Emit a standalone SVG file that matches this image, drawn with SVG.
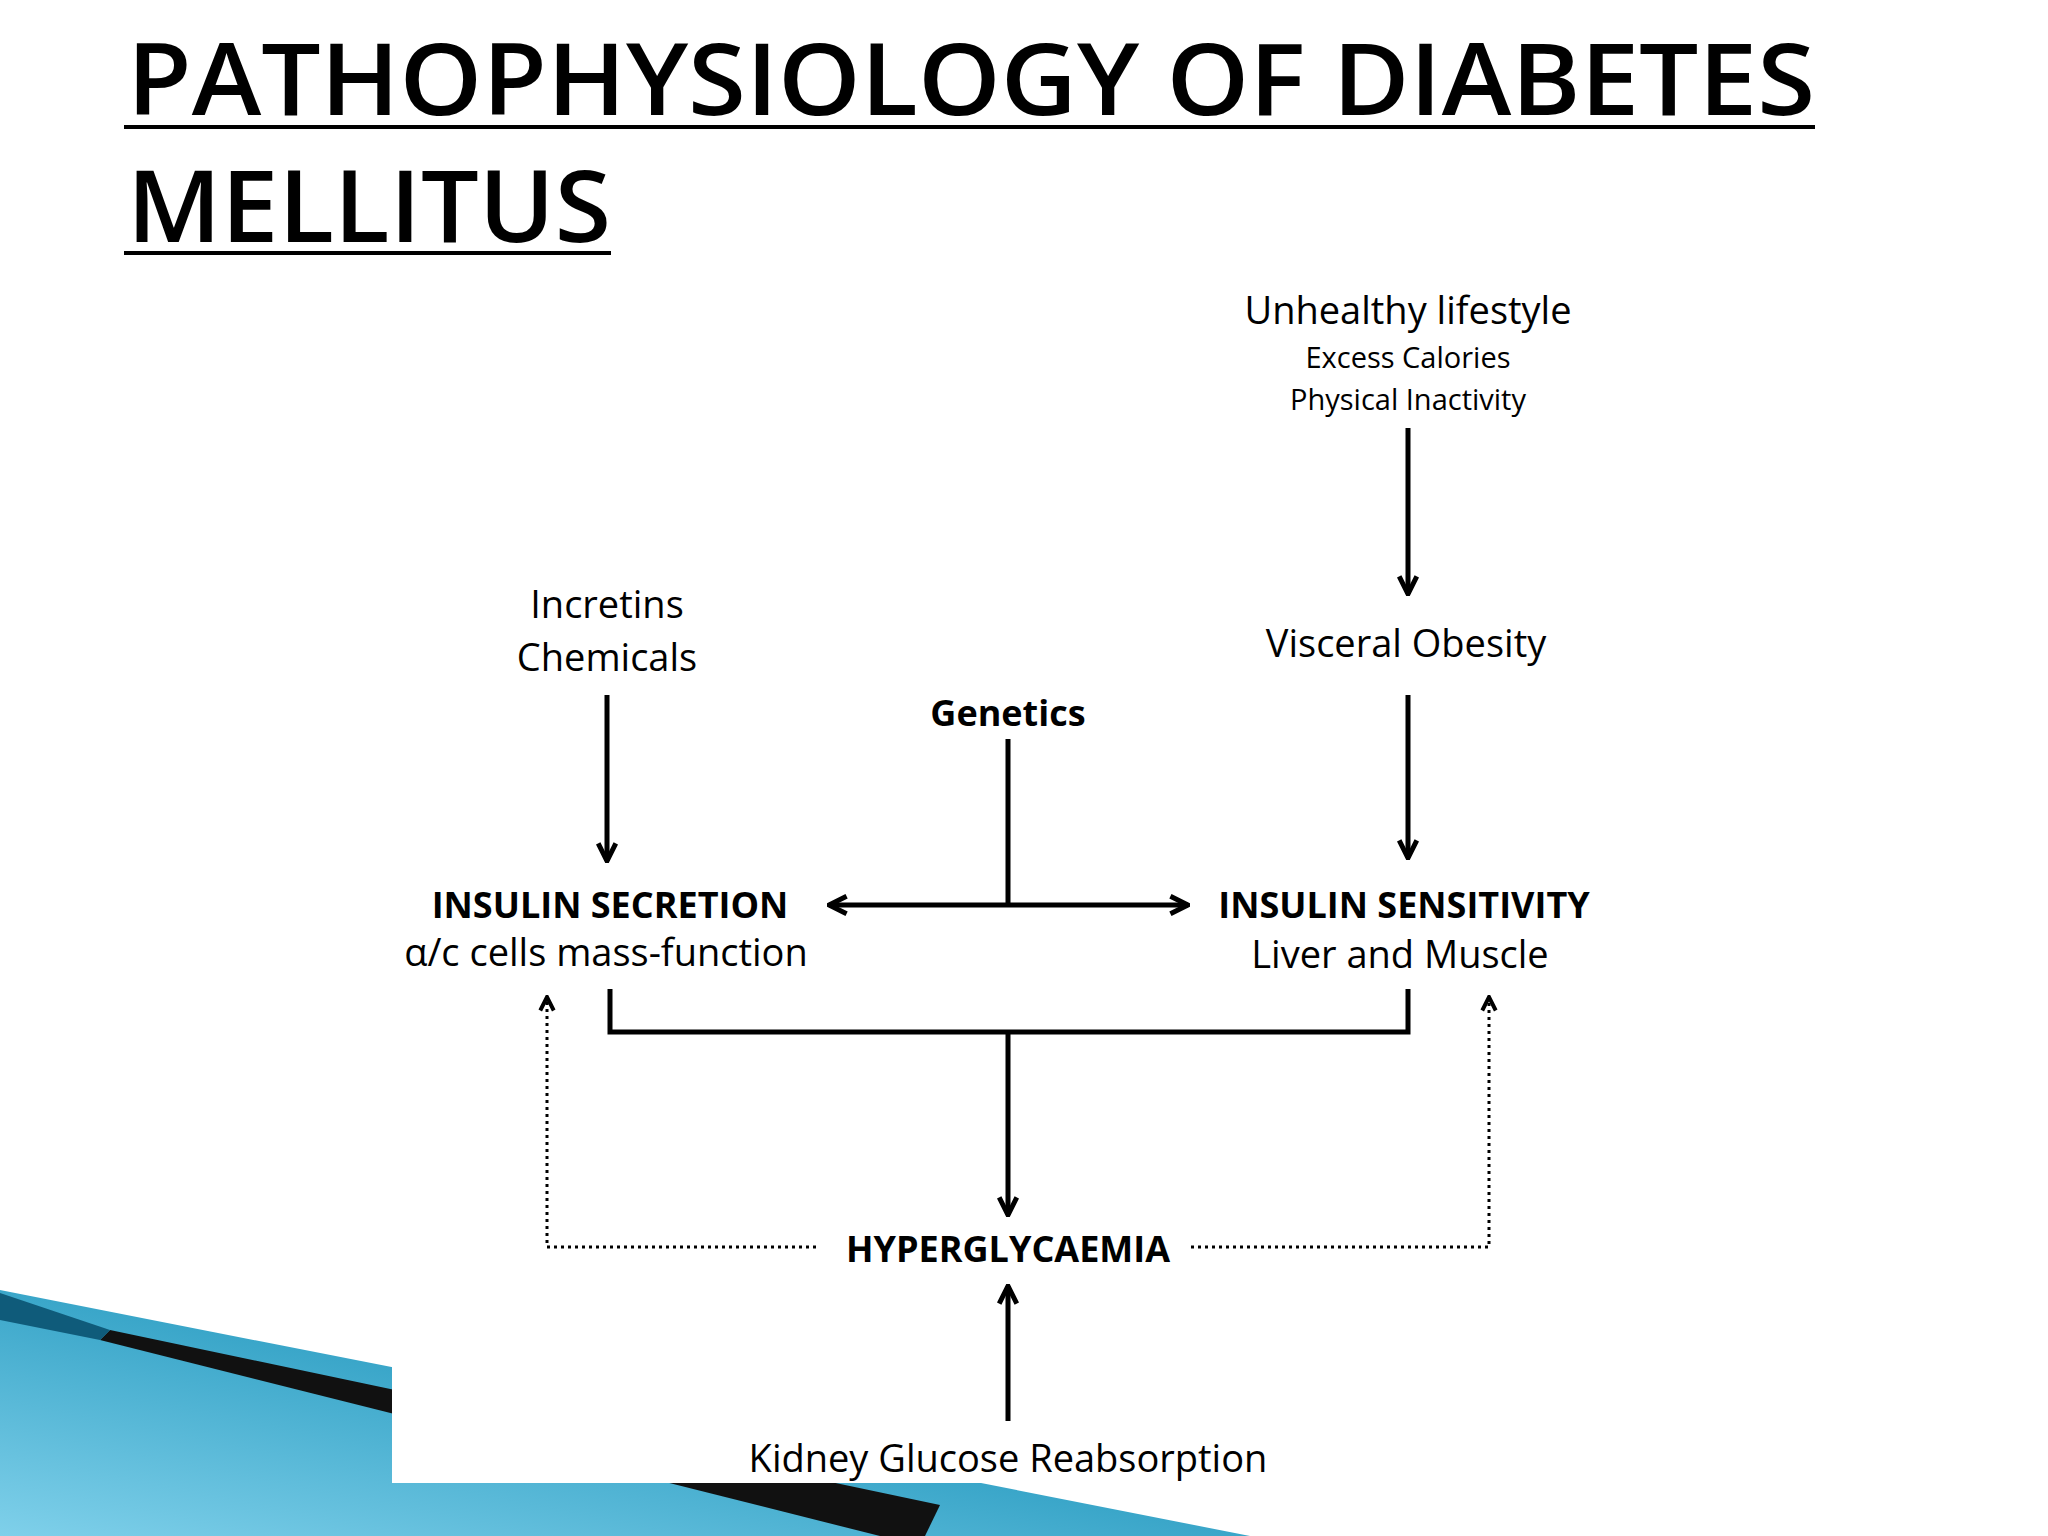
<svg xmlns="http://www.w3.org/2000/svg" width="2048" height="1536" viewBox="0 0 2048 1536">
<defs>
<linearGradient id="bl" x1="0" y1="1" x2="1" y2="0"><stop offset="0" stop-color="#7fd0ea"/><stop offset="0.5" stop-color="#3aa6c9"/><stop offset="1" stop-color="#1a6f93"/></linearGradient>
<marker id="ah" viewBox="0 0 20 20" refX="18" refY="10" markerWidth="22" markerHeight="22" markerUnits="userSpaceOnUse" orient="auto"><path d="M2,2 L18,10 L2,18" fill="none" stroke="#000" stroke-width="4.5"/></marker>
<marker id="ahs" viewBox="0 0 16 16" refX="14" refY="8" markerWidth="18" markerHeight="18" markerUnits="userSpaceOnUse" orient="auto"><path d="M2,2 L14,8 L2,14" fill="none" stroke="#000" stroke-width="3.5"/></marker>
</defs>
<style>
text{font-family:"Open Sans","Noto Sans",sans-serif;fill:#000;text-anchor:middle}
.t{font-size:100px;text-anchor:start;font-weight:600}
.m{font-size:38px}
.s{font-size:29px}
.b{font-size:36px;font-weight:bold}
.ln{stroke:#000;stroke-width:5;fill:none}
.dt{stroke:#000;stroke-width:3;fill:none;stroke-dasharray:3 4}
</style>
<rect width="2048" height="1536" fill="#fff"/>
<g id="decor">
<polygon points="0,1290 1250,1536 0,1536" fill="url(#bl)"/>
<polygon points="110,1330 940,1505 925,1536 880,1536 100,1340" fill="#111"/>
<polygon points="0,1293 110,1330 100,1340 0,1320" fill="#0f5b7a"/>
<rect x="392" y="0" width="1656" height="1483" fill="#fff"/>
</g>
<g id="title">
<text class="t" x="127" y="115" textLength="1688" lengthAdjust="spacingAndGlyphs">PATHOPHYSIOLOGY OF DIABETES</text>
<text class="t" x="127" y="242" textLength="484" lengthAdjust="spacingAndGlyphs">MELLITUS</text>
<line x1="124" y1="127" x2="1815" y2="127" stroke="#000" stroke-width="4"/>
<line x1="124" y1="253" x2="611" y2="253" stroke="#000" stroke-width="4"/>
</g>
<g id="lifestyle"><text class="m" x="1408" y="324">Unhealthy lifestyle</text><text class="s" x="1408" y="368">Excess Calories</text><text class="s" x="1408" y="410">Physical Inactivity</text></g>
<g id="obesity"><text class="m" x="1406" y="657">Visceral Obesity</text></g>
<g id="incretins"><text class="m" x="607" y="618">Incretins</text><text class="m" x="607" y="671">Chemicals</text></g>
<g id="genetics"><text class="b" x="1008" y="726">Genetics</text></g>
<g id="secretion"><text class="b" x="610" y="918">INSULIN SECRETION</text><text class="m" x="606" y="966">α/c cells mass-function</text></g>
<g id="sensitivity"><text class="b" x="1404" y="918">INSULIN SENSITIVITY</text><text class="m" x="1400" y="968">Liver and Muscle</text></g>
<g id="hyper"><text class="b" x="1008" y="1262">HYPERGLYCAEMIA</text></g>
<g id="kidney"><text class="m" x="1008" y="1472">Kidney Glucose Reabsorption</text></g>
<g id="connectors">
<line class="ln" x1="1408" y1="428" x2="1408" y2="594" marker-end="url(#ah)"/>
<line class="ln" x1="1408" y1="695" x2="1408" y2="858" marker-end="url(#ah)"/>
<line class="ln" x1="607" y1="695" x2="607" y2="861" marker-end="url(#ah)"/>
<line class="ln" x1="1008" y1="739" x2="1008" y2="905"/>
<line class="ln" x1="1008" y1="905" x2="829" y2="905" marker-end="url(#ah)"/>
<line class="ln" x1="1008" y1="905" x2="1188" y2="905" marker-end="url(#ah)"/>
<polyline class="ln" points="610,989 610,1032 1408,1032 1408,989"/>
<line class="ln" x1="1008" y1="1032" x2="1008" y2="1215" marker-end="url(#ah)"/>
<line class="ln" x1="1008" y1="1421" x2="1008" y2="1286" marker-end="url(#ah)"/>
<polyline class="dt" points="816,1247 547,1247 547,997" marker-end="url(#ahs)"/>
<polyline class="dt" points="1191,1247 1489,1247 1489,997" marker-end="url(#ahs)"/>
</g>
</svg>
